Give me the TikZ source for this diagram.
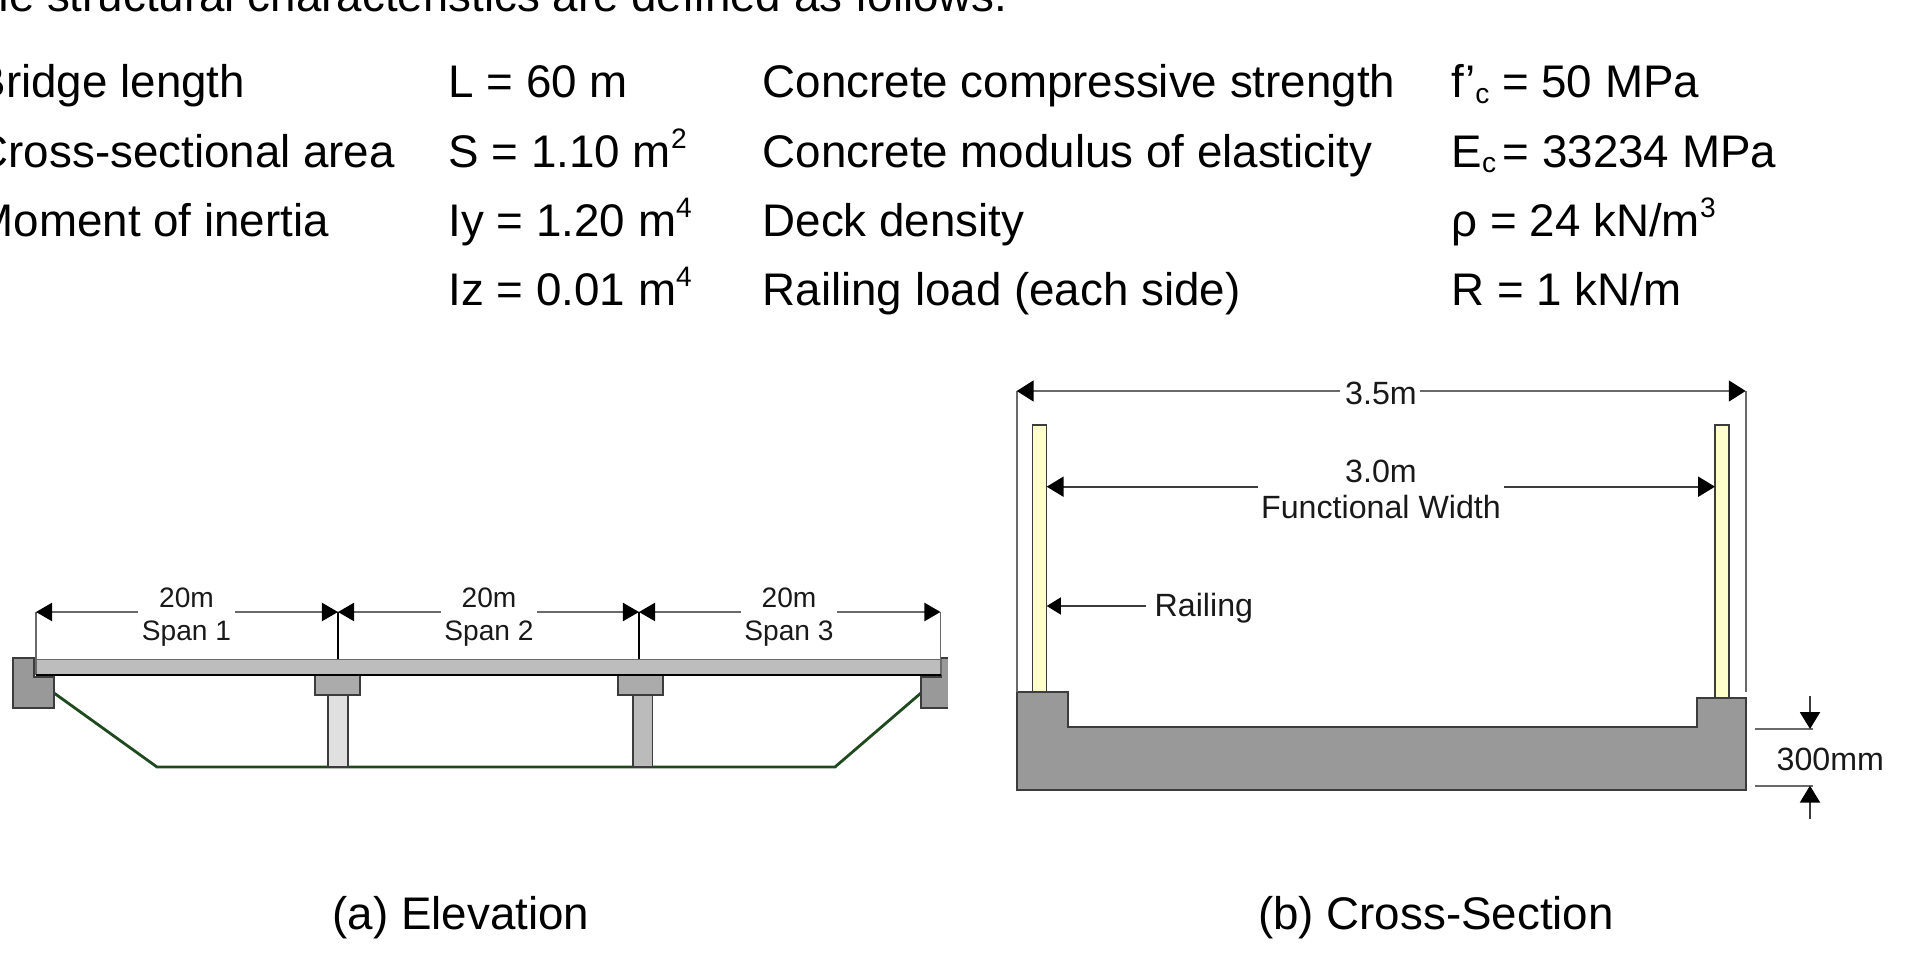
\documentclass[tikz,border=0pt]{standalone}
\usepackage{fontspec}
\setmainfont{Liberation Sans}
\usetikzlibrary{arrows.meta}
\definecolor{abutgray}{HTML}{999999}
\definecolor{deckgray}{HTML}{BDBDBD}
\definecolor{capgray}{HTML}{ABABAB}
\definecolor{linegray}{HTML}{6A6A6A}
\definecolor{edgegray}{HTML}{3C3C3C}
\definecolor{pierlight}{HTML}{E0E0E0}
\definecolor{piermid}{HTML}{BBBBBB}
\definecolor{railyellow}{HTML}{FFFFCC}
\definecolor{grounddark}{HTML}{1F4A1F}
\newcommand{\upidx}[1]{\raisebox{1.9mm}{\fontsize{8}{8}\selectfont #1}}
\newcommand{\lowidx}[1]{\raisebox{-.55mm}{\fontsize{8}{8}\selectfont #1}}
\tikzset{
   tabletext/.style={anchor=base west,inner sep=0pt,font=\fontsize{13}{15}\selectfont},
   spantext/.style={anchor=base,inner sep=0pt,text=black!90,font=\fontsize{8}{9}\selectfont},
   secttext/.style={anchor=base,inner sep=0pt,text=black!90,font=\fontsize{9.15}{10}\selectfont},
   captext/.style={anchor=base,inner sep=0pt,font=\fontsize{13}{15}\selectfont},
   spanarrow/.style={-{Triangle[length=4.6pt,width=5.2pt,color=black]},line width=.5pt,draw=linegray},
   sectarrow/.style={-{Triangle[length=4.8pt,width=5.9pt,color=black]},line width=.65pt,draw=linegray},
   darkarrow/.style={-{Triangle[length=4.8pt,width=5.7pt,color=black]},line width=.5pt,draw=edgegray},
   smallarrow/.style={-{Triangle[length=4pt,width=4.8pt,color=black]},line width=.45pt,draw=edgegray},
   extline/.style={line width=.5pt,draw=linegray},
   concrete/.style={fill=abutgray,draw=edgegray,line width=.5pt},
}
\begin{document}
\begin{tikzpicture}[x=.01cm,y=-.01cm]
   \useasboundingbox (0,0) rectangle (1920,967);

   \node[tabletext] (intro) at (-45,12) {The structural characteristics are defined as follows.};

   \node[tabletext] (lenname) at (-25,98) {Bridge length};
   \node[tabletext] (areaname) at (-25,167.5) {Cross-sectional area};
   \node[tabletext] (inername) at (-25,237) {Moment of inertia};
   \node[tabletext] (lenval) at (448,98) {L = 60 m};
   \node[tabletext] (areaval) at (448,167.5) {S = 1.10 m\upidx{2}};
   \node[tabletext] (iyval) at (448,237) {Iy = 1.20 m\upidx{4}};
   \node[tabletext] (izval) at (448,306) {Iz = 0.01 m\upidx{4}};
   \node[tabletext] (fcname) at (762,98) {Concrete compressive strength};
   \node[tabletext] (ecname) at (762,167.5) {Concrete modulus of elasticity};
   \node[tabletext] (rhoname) at (762,237) {Deck density};
   \node[tabletext] (railname) at (762,306) {Railing load (each side)};
   \node[tabletext] (fcval) at (1451,98) {f’\lowidx{c} = 50 MPa};
   \node[tabletext] (ecval) at (1451,167.5) {E\lowidx{c}\kern1.9pt= 33234 MPa};
   \node[tabletext] (rhoval) at (1451,237) {ρ = 24 kN/m\upidx{3}};
   \node[tabletext] (railval) at (1451,306) {R = 1 kN/m};

   % elevation
   \draw[grounddark,line width=.8pt] (54,693) -- (157,767) -- (835,767) -- (921,693);
   \draw[concrete] (12.7,658) -- (34,658) -- (34,677) -- (54,677) -- (54,708) -- (12.7,708) -- cycle;
   \fill[abutgray] (921,677) rectangle (948,708);
   \fill[abutgray] (941,658) rectangle (948,677);
   \draw[concrete,fill=none] (948,658) -- (941,658) -- (941,677) -- (921,677) -- (921,708) -- (948,708);
   \draw[fill=pierlight,draw=edgegray,line width=.45pt] (328,695) rectangle (348,767);
   \draw[fill=piermid,draw=edgegray,line width=.45pt] (633,695) rectangle (652.7,767);
   \draw[fill=capgray,draw=edgegray,line width=.45pt] (315,675) rectangle (360,695);
   \draw[fill=capgray,draw=edgegray,line width=.45pt] (618,675) rectangle (663,695);
   \draw[fill=deckgray,draw=linegray,line width=.45pt] (36,659.5) rectangle (941,674.7);
   \draw[black,line width=.5pt] (36,674.7) -- (941,674.7);

   \coordinate (spanA) at (36,612);
   \coordinate (spanB) at (338,612);
   \coordinate (spanC) at (639,612);
   \coordinate (spanD) at (940.5,612);
   \draw[extline] (spanA) -- (36,659);
   \draw[black,line width=.35pt] (spanB) -- (338,659);
   \draw[black,line width=.35pt] (spanC) -- (639,659);
   \draw[extline] (spanD) -- (940.5,659);

   \node[spantext] (lenA) at (186.5,608) {20m};
   \node[spantext] (nameA) at (186.5,641) {Span 1};
   \node[spantext] (lenB) at (489,608) {20m};
   \node[spantext] (nameB) at (489,641) {Span 2};
   \node[spantext] (lenC) at (789,608) {20m};
   \node[spantext] (nameC) at (789,641) {Span 3};

   \coordinate (gapAl) at (138,612);
   \coordinate (gapAr) at (235,612);
   \coordinate (gapBl) at (441,612);
   \coordinate (gapBr) at (537,612);
   \coordinate (gapCl) at (741,612);
   \coordinate (gapCr) at (837,612);
   \draw[spanarrow] (gapAl) -- (spanA);
   \draw[spanarrow] (gapAr) -- (spanB);
   \draw[spanarrow] (gapBl) -- (spanB);
   \draw[spanarrow] (gapBr) -- (spanC);
   \draw[spanarrow] (gapCl) -- (spanC);
   \draw[spanarrow] (gapCr) -- (spanD);

   \node[captext] (capA) at (461,929.5) {(a) Elevation};

   % cross section
   \draw[fill=railyellow,draw=edgegray,line width=.45pt] (1032.7,425) rectangle (1046.7,692);
   \draw[fill=railyellow,draw=edgegray,line width=.45pt] (1715,425) rectangle (1728.7,698);
   \draw[concrete] (1016.7,692) -- (1068.3,692) -- (1068.3,727.3) -- (1696.7,727.3) -- (1696.7,698)
      -- (1745.7,698) -- (1745.7,790) -- (1016.7,790) -- cycle;

   \coordinate (topL) at (1016.7,391);
   \coordinate (topR) at (1745.7,391);
   \coordinate (funcL) at (1046.7,486.7);
   \coordinate (funcR) at (1715,486.7);
   \coordinate (railtip) at (1046.7,606);
   \draw[extline] (topL) -- (1016.7,692);
   \draw[extline] (topR) -- (1745.7,692.5);

   \node[secttext] (topdim) at (1381,405) {3.5m};
   \node[secttext] (funcdim) at (1381,482.5) {3.0m};
   \node[secttext] (funcname) at (1381,519) {Functional Width};
   \node[secttext,anchor=base west] (railtxt) at (1154,617) {Railing};
   \node[secttext,anchor=base west] (depth) at (1776,770.7) {300mm};

   \coordinate (topgapL) at (1340,391);
   \coordinate (topgapR) at (1420,391);
   \coordinate (funcgapL) at (1257.7,486.7);
   \coordinate (funcgapR) at (1504,486.7);
   \coordinate (railend) at (1146,606);
   \draw[sectarrow] (topgapL) -- (topL);
   \draw[sectarrow] (topgapR) -- (topR);
   \draw[darkarrow] (funcgapL) -- (funcL);
   \draw[darkarrow] (funcgapR) -- (funcR);
   \draw[smallarrow] (railend) -- (railtip);

   \coordinate (depthU) at (1810,729);
   \coordinate (depthD) at (1810,785.7);
   \draw[extline] (1755,729) -- (1813,729);
   \draw[extline] (1755,785.7) -- (1813,785.7);
   \draw[darkarrow] (1810,696) -- (depthU);
   \draw[darkarrow] (1810,819) -- (depthD);

   \node[captext] (capB) at (1436,929.5) {(b) Cross-Section};
\end{tikzpicture}
\end{document}
